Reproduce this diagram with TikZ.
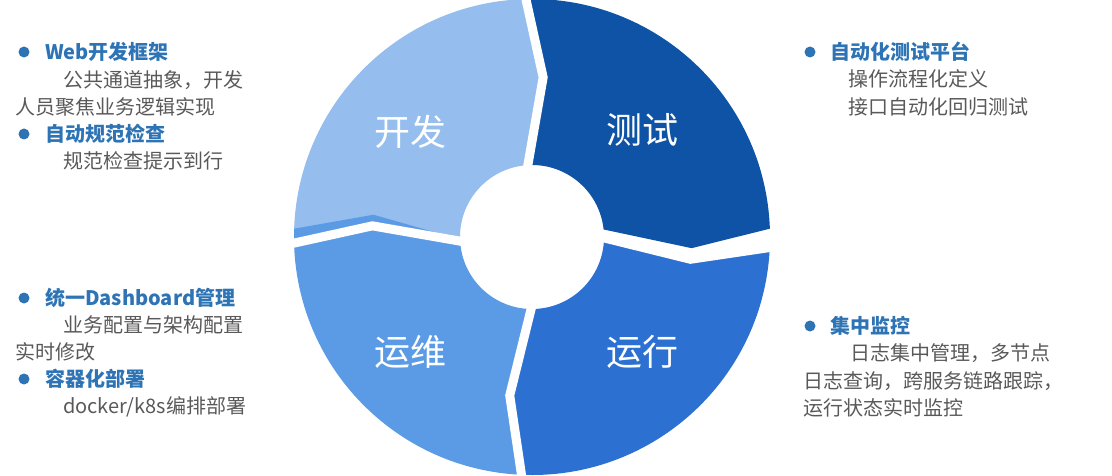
\documentclass[tikz,border=0pt]{standalone}
\usepackage{fontspec}
\newfontfamily\cjk{Noto Sans CJK SC}
\definecolor{cA}{HTML}{95BDED}
\definecolor{cB}{HTML}{0E53A6}
\definecolor{cC}{HTML}{2C70D2}
\definecolor{cD}{HTML}{5B9BE6}
\definecolor{hd}{HTML}{2E74B5}
\definecolor{tx}{HTML}{595959}
\tikzset{
  lab/.style={text=white,font=\cjk\fontsize{36}{40}\selectfont},
  hdtext/.style={anchor=west,inner sep=0pt,text=hd,font=\cjk\bfseries\fontsize{20}{24}\selectfont},
  bodytext/.style={anchor=west,inner sep=0pt,text=tx,font=\cjk\fontsize{20}{24}\selectfont},
  bul/.style={circle,fill=hd,inner sep=0pt,minimum size=11pt}
}
\newcommand{\ringseg}[2]{%
  \fill[#2,shift={(532,238)}] (#1:238) -- (#1-6:160) -- (#1+4:72)
    arc[start angle=#1+4,end angle=#1-86,radius=72pt]
    -- (#1-96:160) -- (#1-90:238)
    arc[start angle=#1-90,end angle=#1,radius=238pt] -- cycle;}
\newcommand{\ringgap}[1]{%
  \draw[white,line width=9pt,line join=miter,shift={(532,238)}] (#1:250) -- (#1-6:160) -- (#1+4:60);}
\begin{document}
\begin{tikzpicture}[x=1pt,y=1pt]
\useasboundingbox (0,0) rectangle (1112,475);
\ringseg{182}{cA}
\ringseg{92}{cB}
\ringseg{-2}{cC}
\ringseg{-92}{cD}
\ringgap{182}\ringgap{92}\ringgap{-2}\ringgap{-92}
\node[lab] (kf) at (410,343) {开发};
\node[lab] (cs) at (642,345) {测试};
\node[lab] (yx) at (642,123) {运行};
\node[lab] (yw) at (410,123) {运维};
% left top
\node[bul] (b1) at (24,423) {};
\node[hdtext] (h1) at (45,423) {Web开发框架};
\node[bodytext] (t1) at (63,395) {公共通道抽象，开发};
\node[bodytext] (t2) at (15,368) {人员聚焦业务逻辑实现};
\node[bul] (b2) at (24,341) {};
\node[hdtext] (h2) at (45,341) {自动规范检查};
\node[bodytext] (t3) at (63,314) {规范检查提示到行};
% left bottom
\node[bul] (b3) at (24,177) {};
\node[hdtext] (h3) at (45,177) {统一Dashboard管理};
\node[bodytext] (t4) at (63,150) {业务配置与架构配置};
\node[bodytext] (t5) at (15,123) {实时修改};
\node[bul] (b4) at (24,96) {};
\node[hdtext] (h4) at (45,96) {容器化部署};
\node[bodytext] (t6) at (63,68) {docker/k8s编排部署};
% right top
\node[bul] (b5) at (810,423) {};
\node[hdtext] (h5) at (830,423) {自动化测试平台};
\node[bodytext] (t7) at (848,396) {操作流程化定义};
\node[bodytext] (t8) at (848,368) {接口自动化回归测试};
% right bottom
\node[bul] (b6) at (810,149) {};
\node[hdtext] (h6) at (830,149) {集中监控};
\node[bodytext] (t9) at (850,122) {日志集中管理，多节点};
\node[bodytext] (t10) at (803,94) {日志查询，跨服务链路跟踪，};
\node[bodytext] (t11) at (803,67) {运行状态实时监控};
\end{tikzpicture}
\end{document}
